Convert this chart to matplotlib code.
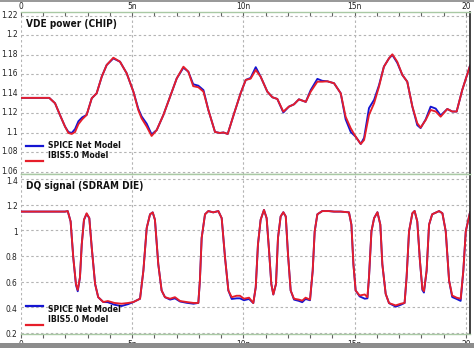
import matplotlib
matplotlib.use("Agg")
import matplotlib.pyplot as plt
import matplotlib.transforms as mtransforms
from matplotlib.ticker import FixedLocator, FuncFormatter, MultipleLocator
from matplotlib.lines import Line2D

# ---------------- data ----------------
# Top panel: VDE power (CHIP), time in ns
t_pwr = [0.0, 1.27, 1.53, 1.75, 1.98, 2.13, 2.28, 2.43, 2.58, 2.75, 2.95, 3.18, 3.4,
         3.63, 3.85, 4.15, 4.45, 4.75, 5.05, 5.27, 5.42, 5.65, 5.87, 6.1, 6.4, 6.7,
         7.0, 7.3, 7.52, 7.74, 7.97, 8.2, 8.42, 8.72, 8.94, 9.1, 9.29, 9.55, 9.87,
         10.1, 10.32, 10.55, 10.77, 11.07, 11.3, 11.52, 11.79, 12.04, 12.27, 12.49,
         12.8, 13.02, 13.32, 13.54, 13.77, 14.07, 14.37, 14.59, 14.82, 15.04, 15.27,
         15.42, 15.64, 15.87, 16.09, 16.31, 16.54, 16.69, 16.91, 17.14, 17.36, 17.59,
         17.81, 17.96, 18.19, 18.41, 18.64, 18.86, 19.16, 19.38, 19.58, 19.83, 20.18]
v_pwr_ibis = [1.136, 1.136, 1.1305, 1.1185, 1.1065, 1.100, 1.099, 1.101, 1.109, 1.114,
              1.1185, 1.1356, 1.1407, 1.1578, 1.1697, 1.1772, 1.1731, 1.1612, 1.1424,
              1.1236, 1.115, 1.1065, 1.0969, 1.103, 1.1185, 1.1372, 1.156, 1.168,
              1.1629, 1.148, 1.1469, 1.1424, 1.1236, 1.101, 1.100, 1.1005, 1.099,
              1.118, 1.1407, 1.1544, 1.1557, 1.1646, 1.1578, 1.1424, 1.1366, 1.1349,
              1.1219, 1.127, 1.1294, 1.1345, 1.1319, 1.1424, 1.1526, 1.1526, 1.153,
              1.151, 1.1407, 1.1167, 1.1048, 1.0962, 1.0887, 1.0928, 1.1185, 1.1305,
              1.1475, 1.168, 1.1766, 1.1807, 1.1731, 1.1595, 1.1526, 1.127, 1.110,
              1.1055, 1.1133, 1.1236, 1.122, 1.1167, 1.1246, 1.122, 1.122, 1.144, 1.169]
v_pwr_spice = [1.136, 1.136, 1.1305, 1.1185, 1.1065, 1.101, 1.100, 1.104, 1.112, 1.116,
               1.1185, 1.1356, 1.1407, 1.1578, 1.1697, 1.1765, 1.1731, 1.1612, 1.1424,
               1.1250, 1.117, 1.1095, 1.0985, 1.103, 1.1185, 1.1372, 1.156, 1.167,
               1.1629, 1.150, 1.1485, 1.1440, 1.1236, 1.101, 1.100, 1.1005, 1.099,
               1.118, 1.1407, 1.1544, 1.1565, 1.1675, 1.1578, 1.1424, 1.1366, 1.1349,
               1.1210, 1.127, 1.1294, 1.1345, 1.1319, 1.1440, 1.1555, 1.1535, 1.153,
               1.151, 1.1407, 1.1140, 1.1010, 1.0962, 1.0887, 1.0950, 1.1255, 1.1340,
               1.1490, 1.168, 1.1766, 1.1800, 1.1720, 1.1595, 1.1526, 1.127, 1.108,
               1.1050, 1.1140, 1.1270, 1.125, 1.1180, 1.1246, 1.122, 1.122, 1.144, 1.169]

# Bottom panel: DQ signal (SDRAM DIE)
t_dq = [0.0, 1.98, 2.1, 2.23, 2.35, 2.47, 2.55, 2.65, 2.73, 2.83, 2.95, 3.07, 3.18,
        3.33, 3.47, 3.7, 3.9, 4.2, 4.52, 4.82, 5.05, 5.35, 5.5, 5.65, 5.8, 5.92, 6.02,
        6.17, 6.32, 6.47, 6.7, 6.92, 7.15, 7.45, 7.75, 7.97, 8.04, 8.12, 8.27, 8.42,
        8.64, 8.87, 9.02, 9.17, 9.32, 9.47, 9.69, 9.84, 10.02, 10.25, 10.44, 10.55,
        10.65, 10.77, 10.92, 11.04, 11.15, 11.25, 11.34, 11.46, 11.55, 11.67, 11.79,
        11.9, 12.0, 12.12, 12.27, 12.49, 12.64, 12.79, 12.99, 13.11, 13.2, 13.32,
        13.54, 13.84, 14.07, 14.37, 14.74, 14.85, 14.94, 15.04, 15.22, 15.45, 15.57,
        15.64, 15.75, 15.87, 16.02, 16.15, 16.24, 16.39, 16.54, 16.84, 17.07, 17.24,
        17.33, 17.44, 17.59, 17.69, 17.81, 17.93, 18.04, 18.11, 18.23, 18.34, 18.48,
        18.79, 18.94, 19.09, 19.24, 19.38, 19.58, 19.76, 19.88, 19.99, 20.18]
v_dq_ibis = [1.146, 1.146, 1.15, 1.069, 0.787, 0.582, 0.536, 0.633, 0.89, 1.082, 1.133,
             1.095, 0.864, 0.582, 0.479, 0.441, 0.449, 0.434, 0.428, 0.434, 0.441, 0.467,
             0.685, 1.018, 1.125, 1.14, 1.082, 0.736, 0.531, 0.479, 0.467, 0.479, 0.449,
             0.441, 0.434, 0.434, 0.608, 0.941, 1.125, 1.15, 1.14, 1.15, 1.095, 0.787,
             0.531, 0.479, 0.49, 0.49, 0.467, 0.475, 0.433, 0.556, 0.89, 1.082, 1.159,
             1.095, 0.838, 0.582, 0.50, 0.582, 0.941, 1.108, 1.141, 1.108, 0.813, 0.531,
             0.467, 0.46, 0.452, 0.475, 0.46, 0.685, 0.992, 1.125, 1.15, 1.15, 1.146,
             1.146, 1.14, 1.044, 0.736, 0.531, 0.492, 0.50, 0.479, 0.633, 0.992, 1.095,
             1.141, 1.044, 0.736, 0.505, 0.433, 0.415, 0.428, 0.434, 0.633, 0.992, 1.133,
             1.151, 1.069, 0.762, 0.544, 0.526, 0.685, 1.044, 1.125, 1.15, 1.133, 0.992,
             0.608, 0.492, 0.475, 0.467, 0.685, 0.992, 1.14]
v_dq_spice = [1.146, 1.146, 1.15, 1.069, 0.787, 0.575, 0.525, 0.633, 0.89, 1.082, 1.128,
              1.095, 0.864, 0.582, 0.479, 0.441, 0.440, 0.420, 0.410, 0.425, 0.441, 0.467,
              0.685, 1.018, 1.125, 1.14, 1.082, 0.736, 0.531, 0.479, 0.460, 0.470, 0.445,
              0.435, 0.428, 0.434, 0.608, 0.941, 1.125, 1.15, 1.14, 1.15, 1.095, 0.787,
              0.531, 0.465, 0.47, 0.47, 0.455, 0.465, 0.433, 0.556, 0.89, 1.082, 1.159,
              1.095, 0.838, 0.582, 0.50, 0.582, 0.941, 1.108, 1.141, 1.108, 0.813, 0.531,
              0.460, 0.45, 0.440, 0.465, 0.455, 0.685, 0.992, 1.125, 1.15, 1.15, 1.146,
              1.146, 1.14, 1.044, 0.736, 0.531, 0.485, 0.467, 0.470, 0.633, 0.992, 1.095,
              1.141, 1.044, 0.736, 0.505, 0.433, 0.405, 0.420, 0.434, 0.633, 0.992, 1.133,
              1.151, 1.069, 0.762, 0.535, 0.515, 0.685, 1.044, 1.125, 1.15, 1.133, 0.992,
              0.608, 0.480, 0.465, 0.450, 0.685, 0.992, 1.14]

pwr_yticks = [1.06, 1.08, 1.1, 1.12, 1.14, 1.16, 1.18, 1.2, 1.22]
dq_yticks = [0.2, 0.4, 0.6, 0.8, 1.0, 1.2, 1.4]
x_major = [0, 5, 10, 15, 20]
x_labels = ["0", "5n", "10n", "15n", "20"]
series_names = ["SPICE Net Model", "IBIS5.0 Model"]
titles = ["VDE power (CHIP)", "DQ signal (SDRAM DIE)"]

# ---------------- style ----------------
W, H = 474, 348
BLUE = "#1414d2"
RED = "#e61e2a"
GRID = "#b4b4b4"
SPINE = "#a9c9a4"
TXT = "#222222"
plt.rcParams['font.family'] = ['DejaVu Sans']
plt.rcParams['font.stretch'] = 'condensed'

fig = plt.figure(figsize=(W / 100, H / 100), dpi=100)
fig.patch.set_facecolor("white")

def fx(px):
    return px / W

def fy(py):
    return 1 - py / H

ax1 = fig.add_axes([fx(21), fy(174), fx(470) - fx(21), fy(12) - fy(174)])
ax2 = fig.add_axes([fx(21), fy(334), fx(470) - fx(21), fy(174) - fy(334)])

XMAX = 20.18
ax1.set_ylim(1.0579, 1.2241)
ax2.set_ylim(0.192, 1.439)

fmt = FuncFormatter(lambda v, p: "%g" % round(v, 3))

for ax, yt in ((ax1, pwr_yticks), (ax2, dq_yticks)):
    ax.set_xlim(0, XMAX)
    ax.set_facecolor("white")
    ax.yaxis.set_major_locator(FixedLocator(yt))
    ax.yaxis.set_major_formatter(fmt)
    ax.xaxis.set_major_locator(FixedLocator(x_major))
    ax.xaxis.set_minor_locator(MultipleLocator(1))
    ax.grid(True, which="major", color=GRID, linestyle=(0, (2.2, 2.2)), linewidth=0.8)
    ax.tick_params(axis="y", which="both", length=0, labelsize=6, colors=TXT, pad=2.5)
    ax.tick_params(axis="x", which="both", length=3, width=0.8, color="#606060",
                   labelsize=6, labelcolor=TXT, pad=1)
    ax.spines["left"].set_visible(False)
    ax.spines["right"].set_color("#202020")
    ax.spines["right"].set_linewidth(1.2)
    for s in ("top", "bottom"):
        ax.spines[s].set_color(SPINE)
        ax.spines[s].set_linewidth(1.0)

ax1.xaxis.set_ticks_position("top")
ax1.tick_params(axis="x", which="both", direction="in", top=True, bottom=False)
ax1.set_xticklabels(x_labels)
ax2.xaxis.set_ticks_position("bottom")
ax2.tick_params(axis="x", which="both", direction="out", top=False, bottom=True)
ax2.set_xticklabels(x_labels)

# nudge y tick labels slightly (upper panel up, lower panel down) as in reference
up = mtransforms.ScaledTranslation(0, 1.5 / 100, fig.dpi_scale_trans)
dn = mtransforms.ScaledTranslation(0, -1.0 / 100, fig.dpi_scale_trans)
for lab in ax1.get_yticklabels():
    lab.set_transform(lab.get_transform() + up)
for lab in ax2.get_yticklabels():
    lab.set_transform(lab.get_transform() + dn)

lw = 1.35
ax1.plot(t_pwr, v_pwr_spice, color=BLUE, lw=lw, solid_joinstyle="round")
ax1.plot(t_pwr, v_pwr_ibis, color=RED, lw=lw, solid_joinstyle="round")
ax2.plot(t_dq, v_dq_spice, color=BLUE, lw=lw, solid_joinstyle="round")
ax2.plot(t_dq, v_dq_ibis, color=RED, lw=lw, solid_joinstyle="round")

# titles
fig.text(fx(26), fy(24), titles[0], ha="left", va="center",
         fontsize=7.2, color="#111111", fontweight="semibold")
fig.text(fx(26), fy(186), titles[1], ha="left", va="center",
         fontsize=7.2, color="#111111", fontweight="semibold")

# legends (manual)
def legend(y_blue_line, y_blue_txt, y_red_line, y_red_txt):
    fig.add_artist(Line2D([fx(26), fx(43)], [fy(y_blue_line)] * 2, color=BLUE, lw=1.6))
    fig.add_artist(Line2D([fx(26), fx(43)], [fy(y_red_line)] * 2, color=RED, lw=1.6))
    fig.text(fx(48), fy(y_blue_txt), series_names[0], ha="left", va="center",
             fontsize=6.2, color="#111111", fontweight="bold")
    fig.text(fx(48), fy(y_red_txt), series_names[1], ha="left", va="center",
             fontsize=6.2, color="#111111", fontweight="bold")

legend(145.7, 145, 161, 155.7)
legend(305.7, 309, 325, 320)

# outer frame pieces
fig.add_artist(plt.Rectangle((0, fy(2)), 1, fy(0) - fy(2), transform=fig.transFigure,
                             color="#9a9a9a", lw=0))
fig.add_artist(plt.Rectangle((0, 0), 1, fy(343), transform=fig.transFigure,
                             color="#8c8c8c", lw=0))

fig.savefig("out.png", dpi=100, facecolor="white")
